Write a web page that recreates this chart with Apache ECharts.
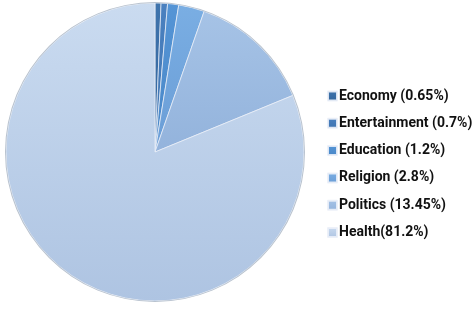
<!DOCTYPE html>
<html><head><meta charset="utf-8">
<script src="https://cdn.jsdelivr.net/npm/echarts@6/dist/echarts.min.js"></script>
<style>html,body{margin:0;padding:0;background:#fff}#c{width:474px;height:309px}</style>
</head><body><div id="c"></div>
<script>
const categories = ['Economy (0.65%)', 'Entertainment (0.7%)', 'Education (1.2%)', 'Religion (2.8%)', 'Politics (13.45%)', 'Health(81.2%)'];
const values = [0.65, 0.7, 1.2, 2.8, 13.45, 81.2];
const colors = [
  ['#3f74ad', '#33659c'],
  ['#4a81c0', '#3f74b0'],
  ['#5595d6', '#4886c6'],
  ['#7aaee3', '#6a9dd6'],
  ['#a6c3e6', '#93b3dc'],
  ['#cadbf0', '#aec4e2']
];
const chart = echarts.init(document.getElementById('c'));
chart.setOption({
  animation: false,
  legend: {
    orient: 'vertical', left: 327, top: 88, padding: 0,
    itemWidth: 9, itemHeight: 9, itemGap: 11.3,
    icon: 'rect',
    textStyle: { fontFamily: 'Roboto', fontWeight: 'bold', fontSize: 14, lineHeight: 16, color: '#111', padding: [0,0,0,-3] },
    data: categories
  },
  series: [{
    type: 'pie',
    center: [155, 152], radius: 149,
    startAngle: 90, clockwise: true,
    label: { show: false }, labelLine: { show: false },
    itemStyle: { borderColor: 'rgba(235,240,248,0.9)', borderWidth: 0.8 },
    emphasis: { disabled: true },
    data: categories.map((n, i) => ({
      name: n, value: values[i],
      itemStyle: { color: new echarts.graphic.LinearGradient(0, 0, 0, 1, [
        { offset: 0, color: colors[i][0] }, { offset: 1, color: colors[i][1] }
      ], false) }
    }))
  }, {
    type: 'pie', silent: true,
    center: [155, 152], radius: [149, 150],
    label: { show: false }, labelLine: { show: false },
    itemStyle: { color: '#b9c3cf' },
    data: [{ value: 1, name: '_outline' }]
  }]
});
</script></body></html>
